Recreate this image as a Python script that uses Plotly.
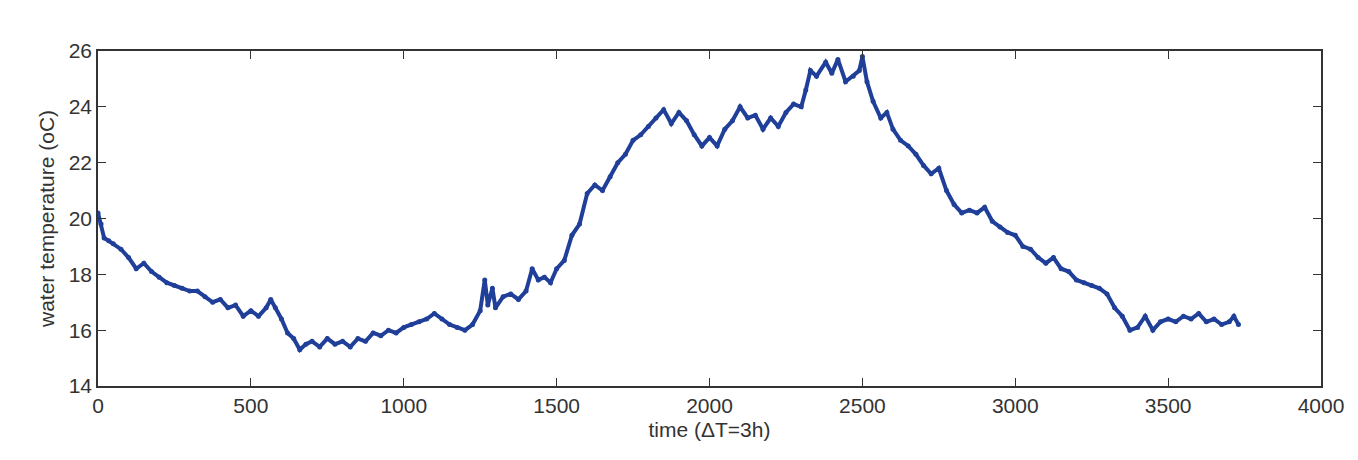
import plotly.graph_objects as go

# time index (ΔT = 3h) and water temperature (oC)
time = [0, 10, 20, 35, 50, 75, 100, 125, 150, 175, 200, 225, 250, 275, 300, 325, 350, 375,
        400, 425, 450, 475, 500, 525, 550, 565, 580, 600, 620, 640, 660, 680, 700, 725,
        750, 775, 800, 825, 850, 875, 900, 925, 950, 975, 1000, 1025, 1050, 1075, 1100,
        1125, 1150, 1175, 1200, 1225, 1250, 1265, 1275, 1290, 1300, 1325, 1350, 1375,
        1400, 1420, 1440, 1460, 1480, 1500, 1525, 1550, 1575, 1600, 1625, 1650, 1675,
        1700, 1725, 1750, 1775, 1800, 1825, 1850, 1875, 1900, 1925, 1950, 1975, 2000,
        2025, 2050, 2075, 2100, 2125, 2150, 2175, 2200, 2225, 2250, 2275, 2300, 2315,
        2330, 2350, 2380, 2400, 2420, 2445, 2470, 2490, 2500, 2515, 2535, 2560, 2580,
        2600, 2625, 2650, 2675, 2700, 2725, 2750, 2775, 2800, 2825, 2850, 2875, 2900,
        2925, 2950, 2975, 3000, 3025, 3050, 3075, 3100, 3125, 3150, 3175, 3200, 3225,
        3250, 3275, 3300, 3325, 3350, 3375, 3400, 3425, 3450, 3475, 3500, 3525, 3550,
        3575, 3600, 3625, 3650, 3675, 3700, 3715, 3730]
temp = [20.2, 19.8, 19.3, 19.2, 19.1, 18.9, 18.6, 18.2, 18.4, 18.1, 17.9, 17.7, 17.6, 17.5,
        17.4, 17.4, 17.2, 17.0, 17.1, 16.8, 16.9, 16.5, 16.7, 16.5, 16.8, 17.1, 16.8, 16.4,
        15.9, 15.7, 15.3, 15.5, 15.6, 15.4, 15.7, 15.5, 15.6, 15.4, 15.7, 15.6, 15.9, 15.8,
        16.0, 15.9, 16.1, 16.2, 16.3, 16.4, 16.6, 16.4, 16.2, 16.1, 16.0, 16.2, 16.7, 17.8,
        16.9, 17.5, 16.8, 17.2, 17.3, 17.1, 17.4, 18.2, 17.8, 17.9, 17.7, 18.2, 18.5, 19.4,
        19.8, 20.9, 21.2, 21.0, 21.5, 22.0, 22.3, 22.8, 23.0, 23.3, 23.6, 23.9, 23.4, 23.8,
        23.5, 23.0, 22.6, 22.9, 22.6, 23.2, 23.5, 24.0, 23.6, 23.7, 23.2, 23.6, 23.3, 23.8,
        24.1, 24.0, 24.6, 25.3, 25.1, 25.6, 25.2, 25.7, 24.9, 25.1, 25.3, 25.8, 24.9, 24.2,
        23.6, 23.8, 23.2, 22.8, 22.6, 22.3, 21.9, 21.6, 21.8, 21.0, 20.5, 20.2, 20.3, 20.2,
        20.4, 19.9, 19.7, 19.5, 19.4, 19.0, 18.9, 18.6, 18.4, 18.6, 18.2, 18.1, 17.8, 17.7,
        17.6, 17.5, 17.3, 16.8, 16.5, 16.0, 16.1, 16.5, 16.0, 16.3, 16.4, 16.3, 16.5, 16.4,
        16.6, 16.3, 16.4, 16.2, 16.3, 16.5, 16.2, 16.0]

fig = go.Figure(go.Scatter(x=time, y=temp, mode="lines+markers",
                           line=dict(color="#1f3f99", width=4),
                           marker=dict(color="#1f3f99", size=5)))

axis = dict(showline=True, linecolor="#333333", linewidth=1.5, mirror="ticks",
            ticks="inside", ticklen=8, tickcolor="#333333", showgrid=False,
            zeroline=False, automargin=False, tickfont=dict(size=21, color="#333333"))
fig.update_layout(
    width=1358, height=460, plot_bgcolor="white", paper_bgcolor="white",
    font=dict(family="Liberation Sans, Arial", color="#333333"),
    margin=dict(l=90, r=45, t=43, b=82), showlegend=False,
    xaxis=dict(axis, range=[0, 4000], dtick=500,
               title=dict(text="time (ΔT=3h)", font=dict(size=21), standoff=6)),
    yaxis=dict(axis, range=[14, 26], dtick=2,
               title=dict(text="water temperature (oC)", font=dict(size=21), standoff=8)),
)
fig.write_html("out.html")
